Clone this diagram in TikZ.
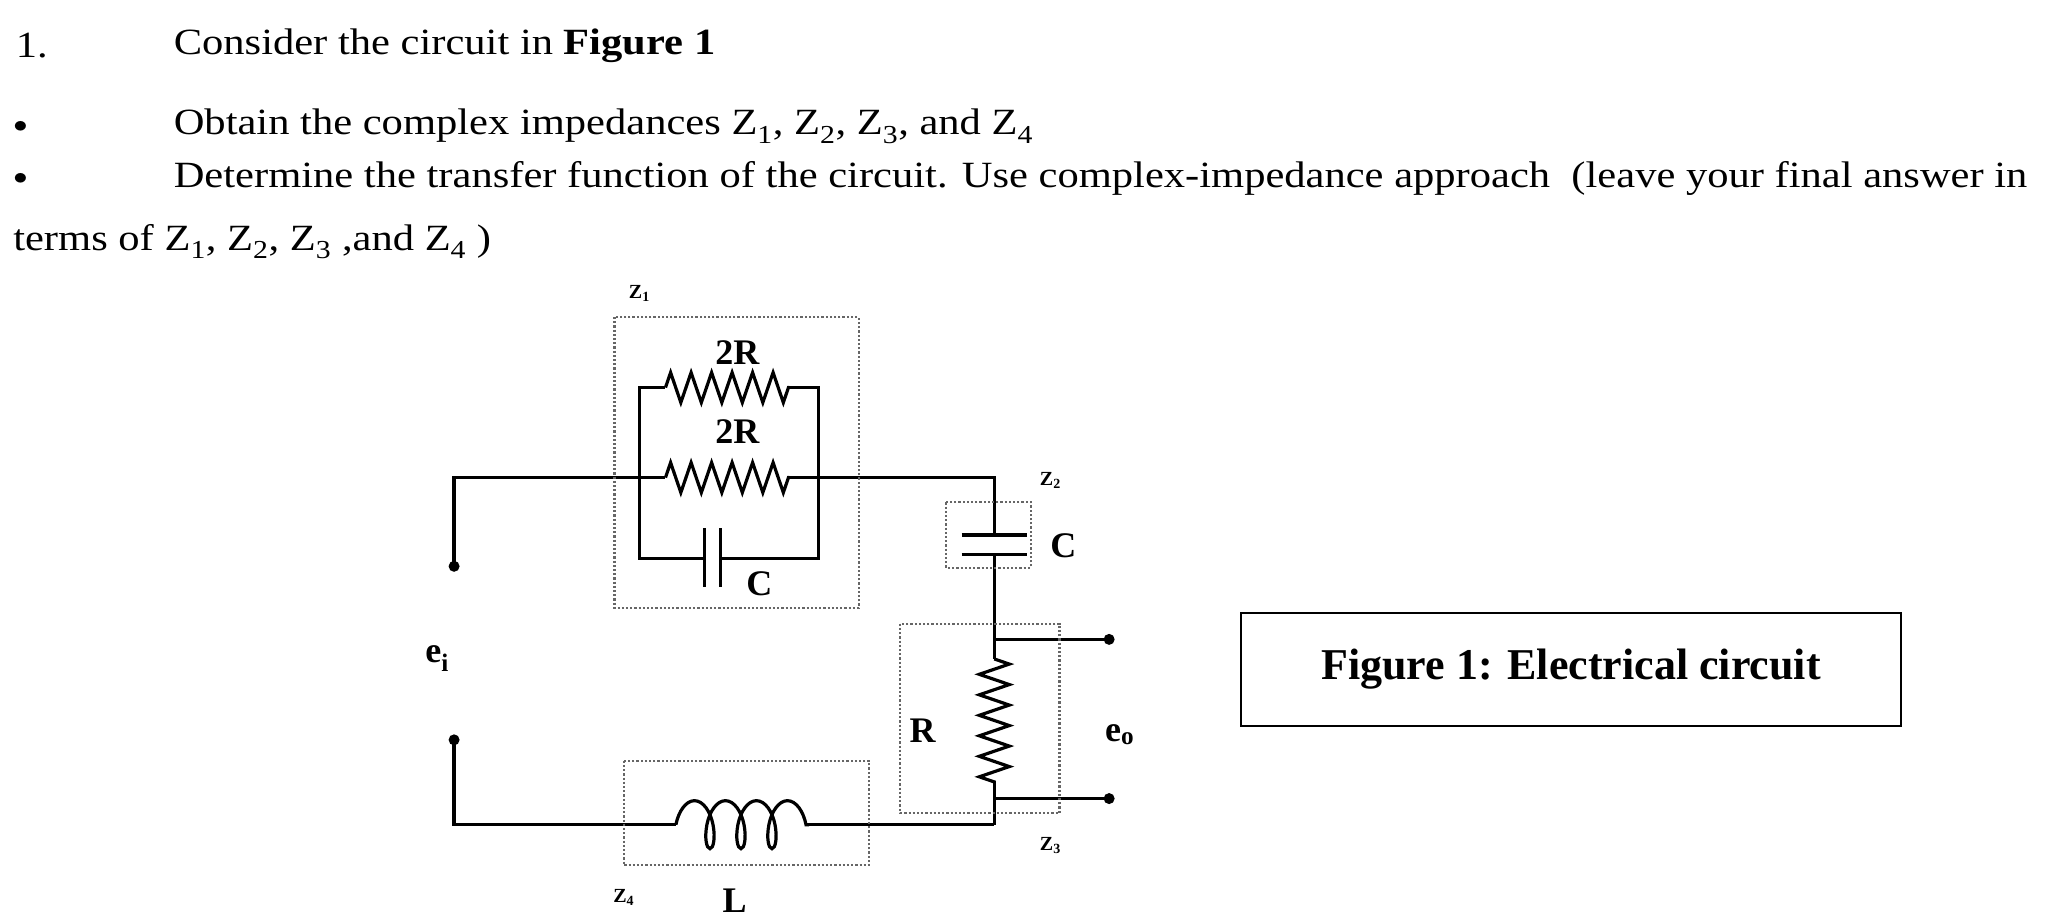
\documentclass[tikz,border=0pt]{standalone}
\usepackage{fontspec}
\setmainfont{Liberation Serif}
\usetikzlibrary{decorations.pathmorphing}
\begin{document}
\begin{tikzpicture}[x=1.305pt,y=-1.305pt,
  wire/.style={line width=3.2pt},
  dbox/.style={line width=2.2pt,dotted,gray!80!black},
  txt/.style={font=\fontsize{37}{42}\selectfont,inner sep=0pt,anchor=west,xscale=1.15},
  lab/.style={font=\bfseries\fontsize{36}{40}\selectfont,inner sep=0pt},
  zl/.style={font=\bfseries\fontsize{20}{24}\selectfont,inner sep=0pt},
  res/.style={wire,decorate,decoration={zigzag,amplitude=15pt,segment length=20.5pt}},
  term/.style={circle,fill,inner sep=0pt,minimum size=11pt}]
\useasboundingbox (0,0) rectangle (1568,708);
% text
\node[txt] (n1) at (12,35) {1.};
\node[txt] (t1) at (133,35) {Consider the circuit in \textbf{Figure 1}};
\node[txt] (b1) at (10,97) {$\bullet$};
\node[txt] (t2) at (133,97) {Obtain the complex impedances Z\textsubscript{1}, Z\textsubscript{2}, Z\textsubscript{3}, and Z\textsubscript{4}};
\node[txt] (b2) at (10,137) {$\bullet$};
\node[txt] (t3) at (133,137) {Determine the transfer function of the circuit. Use complex-impedance approach\ \ (leave your final answer in};
\node[txt] (t4) at (10,185) {terms of Z\textsubscript{1}, Z\textsubscript{2}, Z\textsubscript{3} ,and Z\textsubscript{4} )};
% terminals
\node[term] (ti1) at (348,434) {};
\node[term] (ti2) at (348,567) {};
\node[term] (to1) at (850,490) {};
\node[term] (to2) at (850,612) {};
% top wire
\draw[wire] (ti1.center) -- (348,366) -- (510,366);
\draw[res] (510,366) -- (605,366);
\draw[wire] (605,366) -- (762,366) -- (762,410);
% Z1 parallel branch
\draw[wire] (490,366) -- (490,297) -- (510,297);
\draw[res] (510,297) -- (605,297);
\draw[wire] (605,297) -- (627,297) -- (627,366);
\draw[wire] (490,366) -- (490,428) -- (540,428);
\draw[wire] (552,428) -- (627,428) -- (627,366);
\draw[wire] (540,405) -- (540,450);
\draw[wire] (552,405) -- (552,450);
\node[lab] (l2r1) at (565,270) {2R};
\node[lab] (l2r2) at (565,331) {2R};
\node[lab] (lc1) at (582,447) {C};
\draw[dbox] (471,243) rectangle (658,466);
\node[zl] (z1) at (490,225) {Z\textsubscript{1}};
% Z2
\draw[wire] (737,410) -- (787,410);
\draw[wire] (737,425) -- (787,425);
\draw[wire] (762,425) -- (762,490);
\draw[dbox] (725,385) rectangle (790,435);
\node[lab] (lc2) at (815,418) {C};
\node[zl] (z2) at (805,368) {Z\textsubscript{2}};
% Z3
\draw[wire] (762,490) -- (to1.center);
\draw[wire] (762,490) -- (762,505);
\draw[res] (762,505) -- (762,600);
\draw[wire] (762,600) -- (762,632);
\draw[wire] (762,612) -- (to2.center);
\draw[dbox] (690,478) rectangle (812,623);
\node[lab] (lr) at (707,560) {R};
\node[zl] (z3) at (805,648) {Z\textsubscript{3}};
\node[lab] (eo) at (858,563) {e\textsubscript{o}};
\node[lab] (ei) at (335,505) {e\textsubscript{i}};
% bottom wire + inductor
\draw[wire] (ti2.center) -- (348,632) -- (518,632);
\draw[wire,decorate,decoration={coil,aspect=0.45,amplitude=24pt,segment length=31pt}] (518,632) -- (620,632);
\draw[wire] (620,632) -- (762,632);
\draw[dbox] (478,583) rectangle (666,663);
\node[zl] (z4) at (478,688) {Z\textsubscript{4}};
\node[lab] (ll) at (563,690) {L};
% figure caption
\node[draw,line width=2pt,minimum width=506*1.305pt,minimum height=86*1.305pt,font=\bfseries\fontsize{44}{48}\selectfont] (cap) at (1204,513) {Figure 1: Electrical circuit};
\end{tikzpicture}
\end{document}
